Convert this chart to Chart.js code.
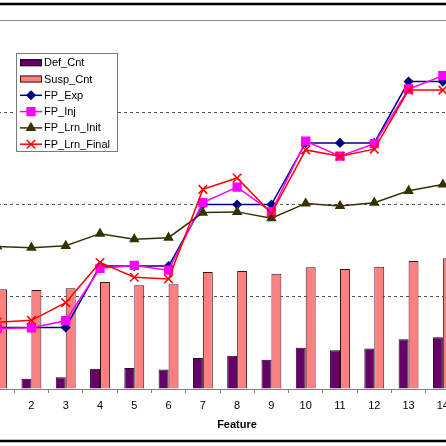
<!DOCTYPE html>
<html>
<head>
<meta charset="utf-8">
<script src="https://cdn.jsdelivr.net/npm/chart.js@4.4.0/dist/chart.umd.min.js"></script>
<style>
  html, body { margin: 0; padding: 0; background: #fff; overflow: hidden; width: 446px; height: 446px; }
  #wrap { position: absolute; left: -40px; top: 0; width: 520px; height: 446px; }
</style>
</head>
<body>
<div id="wrap"><canvas id="myChart"></canvas></div>
<script>
const features = ['1', '2', '3', '4', '5', '6', '7', '8', '9', '10', '11', '12', '13', '14'];
const defCnt = [2.5, 2.8, 3.2, 5.5, 5.7, 5.3, 8.4, 9.0, 7.9, 11.2, 10.5, 11.0, 13.5, 14.0];
const suspCnt = [27.0, 26.8, 27.3, 29.0, 28.1, 28.4, 31.7, 32.0, 31.2, 33.0, 32.5, 33.1, 34.7, 35.4];
const fpExp = [16.7, 16.7, 16.7, 33.3, 33.3, 33.3, 50.0, 50.0, 50.0, 66.7, 66.7, 66.7, 83.3, 83.3];
const fpInj = [16.4, 16.6, 18.5, 32.7, 33.5, 32.2, 50.5, 54.7, 48.0, 67.2, 63.1, 66.5, 81.3, 84.9];
const fpLrnInit = [38.6, 38.3, 38.8, 42.1, 40.6, 41.0, 47.8, 48.0, 46.3, 50.3, 49.6, 50.5, 53.7, 55.4];
const fpLrnFinal = [18.1, 18.6, 23.4, 34.3, 30.3, 29.8, 54.1, 57.2, 47.6, 64.8, 63.1, 65.0, 81.0, 81.0];
const yTicks = [0, 25, 50, 75, 100];

const FONT = '"Liberation Sans", Arial, sans-serif';

function lineSet(label, values, color, style, radius, order) {
  return {
    type: 'line',
    label: label,
    data: values,
    borderColor: color,
    backgroundColor: color,
    borderWidth: 1.5,
    pointStyle: style,
    pointRadius: radius,
    pointBackgroundColor: color,
    pointBorderColor: color,
    pointBorderWidth: 1.5,
    tension: 0,
    order: order
  };
}

// chart frame, axis title and boxed legend, drawn the way the spreadsheet did
const frame = {
  id: 'frame',
  afterDraw(chart) {
    const ctx = chart.ctx;
    const area = chart.chartArea;
    const line = (x1, y1, x2, y2) => { ctx.beginPath(); ctx.moveTo(x1, y1); ctx.lineTo(x2, y2); ctx.stroke(); };
    ctx.save();
    ctx.strokeStyle = '#000';
    ctx.lineWidth = 2.5;
    line(0, 4, chart.width, 4);
    line(0, 441, chart.width, 441);

    ctx.strokeStyle = '#8c8c8c';
    ctx.lineWidth = 1;
    line(area.left, area.top + 0.5, area.right, area.top + 0.5);

    ctx.fillStyle = '#000';
    ctx.font = 'bold 11px ' + FONT;
    ctx.textAlign = 'center';
    ctx.textBaseline = 'middle';
    ctx.fillText('Feature', 277, 425);

    // legend box
    const lx = 56, ly = 53, lw = 101, lh = 98;
    ctx.fillStyle = '#fff';
    ctx.fillRect(lx, ly, lw, lh);
    ctx.strokeStyle = '#7a7a7a';
    ctx.strokeRect(lx + 0.5, ly + 0.5, lw, lh);
    ctx.textAlign = 'left';
    ctx.font = '11px ' + FONT;
    chart.data.datasets.forEach((ds, i) => {
      const y = 62.7 + i * 16.3;
      if (ds.type === 'line') {
        ctx.strokeStyle = ds.borderColor;
        ctx.lineWidth = ds.borderWidth;
        line(60, y, 82, y);
        ctx.fillStyle = ds.pointBackgroundColor;
        ctx.strokeStyle = ds.pointBorderColor;
        ctx.lineWidth = ds.pointBorderWidth;
        Chart.helpers.drawPoint(ctx, { pointStyle: ds.pointStyle, radius: ds.pointRadius, rotation: 0, borderWidth: ds.pointBorderWidth }, 71, y);
      } else {
        ctx.fillStyle = ds.backgroundColor;
        ctx.fillRect(60, y - 3.5, 22, 7);
        ctx.strokeStyle = ds.borderColor;
        ctx.lineWidth = 1;
        ctx.strokeRect(60.5, y - 3, 21, 6);
      }
      ctx.fillStyle = '#000';
      ctx.fillText(ds.label, 84, y + 0.5);
    });
    ctx.restore();
  }
};

const data = {
  labels: features,
  datasets: [
    {
      label: 'Def_Cnt',
      data: defCnt,
      backgroundColor: '#660066',
      borderColor: '#1a001a',
      borderWidth: 1,
      categoryPercentage: 0.58,
      barPercentage: 1.0,
      order: 5
    },
    {
      label: 'Susp_Cnt',
      data: suspCnt,
      backgroundColor: '#ff8080',
      borderColor: '#3a1414',
      borderWidth: 1,
      categoryPercentage: 0.58,
      barPercentage: 1.0,
      order: 6
    },
    lineSet('FP_Exp', fpExp, '#000080', 'rectRot', 4, 4),
    lineSet('FP_Inj', fpInj, '#ff00ff', 'rect', 5.5, 3),
    lineSet('FP_Lrn_Init', fpLrnInit, '#333300', 'triangle', 4.6, 2),
    lineSet('FP_Lrn_Final', fpLrnFinal, '#ff0000', 'crossRot', 6, 1)
  ]
};

const config = {
  type: 'bar',
  data: data,
  plugins: [frame],
  options: {
    responsive: true,
    maintainAspectRatio: false,
    animation: false,
    layout: { padding: { left: 20, right: 20, top: 20, bottom: 0 } },
    plugins: {
      legend: { display: false },
      tooltip: { enabled: false }
    },
    scales: {
      x: {
        grid: {
          drawOnChartArea: false,
          drawTicks: true,
          tickLength: 4,
          tickColor: '#808080'
        },
        border: { display: true, color: '#808080', width: 1 },
        ticks: {
          autoSkip: false,
          maxRotation: 0,
          padding: 6,
          color: '#000',
          font: { family: FONT, size: 11 }
        },
        afterFit: s => { s.height = 57; }
      },
      y: {
        min: yTicks[0],
        max: yTicks[yTicks.length - 1],
        afterBuildTicks: s => { s.ticks = yTicks.map(v => ({ value: v })); },
        ticks: { display: false },
        grid: {
          drawTicks: false,
          color: c => (c.tick && c.tick.value > yTicks[0] && c.tick.value < yTicks[yTicks.length - 1]) ? '#555' : 'rgba(0,0,0,0)',
          lineWidth: 1
        },
        border: { display: false, dash: [3, 3] },
        afterFit: s => { s.width = 0; }
      }
    }
  }
};

var myChart = new Chart(document.getElementById('myChart'), config);
</script>
</body>
</html>
